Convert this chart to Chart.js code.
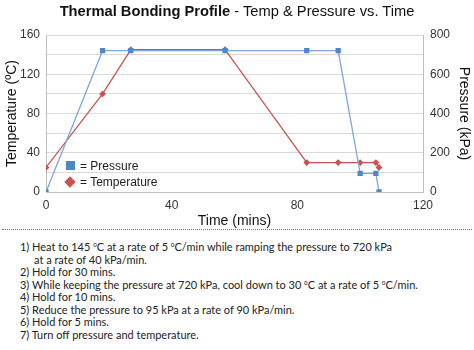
<!DOCTYPE html>
<html>
<head>
<meta charset="utf-8">
<script src="https://cdn.jsdelivr.net/npm/chart.js@4/dist/chart.umd.min.js"></script>
<style>
body{margin:0;background:#fff;}
#wrap{position:relative;width:474px;height:350px;overflow:hidden;font-family:"Liberation Sans",Arial,sans-serif;}
#title{position:absolute;top:3px;left:0;width:474px;text-align:center;font-size:14.7px;color:#111;}
#cv{position:absolute;left:0;top:0;}
.lg{position:absolute;left:80px;font-size:12px;color:#222;}
#sq{position:absolute;left:66px;top:161px;width:9px;height:9px;background:#4f86c6;}
#dm{position:absolute;left:66px;top:178px;width:8px;height:8px;background:#c9534f;transform:rotate(45deg);}
#line{position:absolute;left:2px;right:2px;top:229px;border-top:1px dotted #777;}
#notes{position:absolute;left:20px;top:241px;font-family:"Lato",sans-serif;font-size:12px;line-height:12.5px;color:#222;white-space:nowrap;transform:scaleX(0.915);transform-origin:0 0;}
#notes sup{font-size:7px;vertical-align:4px;line-height:0;}
</style>
</head>
<body>
<div id="wrap">
<canvas id="cv" width="474" height="230"></canvas>
<div id="title"><b>Thermal Bonding Profile</b> - Temp &amp; Pressure vs. Time</div>
<div id="sq"></div><div class="lg" style="top:159px">= Pressure</div>
<div id="dm"></div><div class="lg" style="top:175px">= Temperature</div>
<div id="line"></div>
<div id="notes">
1) Heat to 145 <sup>o</sup>C at a rate of 5 <sup>o</sup>C/min while ramping the pressure to 720 kPa<br>
&nbsp;&nbsp;&nbsp;&nbsp;&nbsp;at a rate of 40 kPa/min.<br>
2) Hold for 30 mins.<br>
3) While keeping the pressure at 720 kPa, cool down to 30 <sup>o</sup>C at a rate of 5 <sup>o</sup>C/min.<br>
4) Hold for 10 mins.<br>
5) Reduce the pressure to 95 kPa at a rate of 90 kPa/min.<br>
6) Hold for 5 mins.<br>
7) Turn off pressure and temperature.
</div>
</div>
<script>
var time = [0, 18, 27, 57, 83, 93, 100, 105, 106];
var pressure = [0, 720, 720, 720, 720, 720, 95, 95, 0];
var temperature = [25, 100, 145, 145, 30, 30, 30, 30, 25];
var tempTicks = [0, 40, 80, 120, 160];
var presTicks = [0, 200, 400, 600, 800];
var timeTicks = [0, 40, 80, 120];

function pts(vals){
  var out=[];
  for(var i=0;i<time.length;i++) out.push({x:time[i], y:vals[i]});
  return out;
}

var ctx = document.getElementById('cv').getContext('2d');
var chart = new Chart(ctx, {
  type: 'line',
  data: {
    datasets: [{
      label: 'Pressure',
      data: pts(pressure),
      yAxisID: 'yP',
      borderColor: '#7ea6d8',
      borderWidth: 1.3,
      backgroundColor: '#4f86c6',
      pointBackgroundColor: '#4f86c6',
      pointBorderColor: '#4f86c6',
      pointStyle: 'rect',
      pointRadius: 2.8,
      tension: 0,
      order: 0
    },{
      label: 'Temperature',
      data: pts(temperature),
      yAxisID: 'yT',
      borderColor: '#c9534f',
      borderWidth: 1.3,
      backgroundColor: '#c9534f',
      pointBackgroundColor: '#c9534f',
      pointBorderColor: '#c9534f',
      pointStyle: 'rectRot',
      pointRadius: 2.5,
      tension: 0,
      order: 1
    }]
  },
  options: {
    responsive: false,
    animation: false,
    layout: {padding: {top: 35, left: 0, right: 0, bottom: 0}},
    plugins: {legend: {display: false}, tooltip: {enabled: false}},
    scales: {
      x: {
        type: 'linear', min: 0, max: 120,
        afterBuildTicks: function(s){ s.ticks = timeTicks.map(function(v){return {value:v};}); },
        grid: {display: false, drawTicks: false},
        border: {display: true, color: '#bfbfbf'},
        ticks: {color: '#333', font: {family: 'Liberation Sans', size: 12}, padding: 6, maxRotation: 0},
        title: {display: true, text: 'Time (mins)', color: '#111', font: {family: 'Liberation Sans', size: 14}, padding: {top: 1, bottom: 0}},
        afterFit: function(s){ s.height = 38; }
      },
      yT: {
        position: 'left', min: 0, max: 160,
        ticks: {stepSize: 20, color: '#333', font: {family: 'Liberation Sans', size: 12}, padding: 6,
          callback: function(v){ return tempTicks.indexOf(v) >= 0 ? v : ''; }},
        grid: {color: '#d9d9d9', drawTicks: false},
        border: {display: true, color: '#bfbfbf'},
        title: {display: true, text: 'Temperature (ºC)', color: '#111', font: {family: 'Liberation Sans', size: 14}, padding: {top: 4, bottom: 0}},
        afterFit: function(s){ s.width = 46; }
      },
      yP: {
        position: 'right', min: 0, max: 800,
        ticks: {stepSize: 100, color: '#333', font: {family: 'Liberation Sans', size: 12}, padding: 7,
          callback: function(v){ return presTicks.indexOf(v) >= 0 ? v : ''; }},
        grid: {display: false, drawTicks: false},
        border: {display: true, color: '#bfbfbf'},
        title: {display: true, text: 'Pressure (kPa)', color: '#111', font: {family: 'Liberation Sans', size: 14}, padding: {top: 2, bottom: 0}},
        afterFit: function(s){ s.width = 51; }
      }
    }
  }
});
</script>
</body>
</html>
